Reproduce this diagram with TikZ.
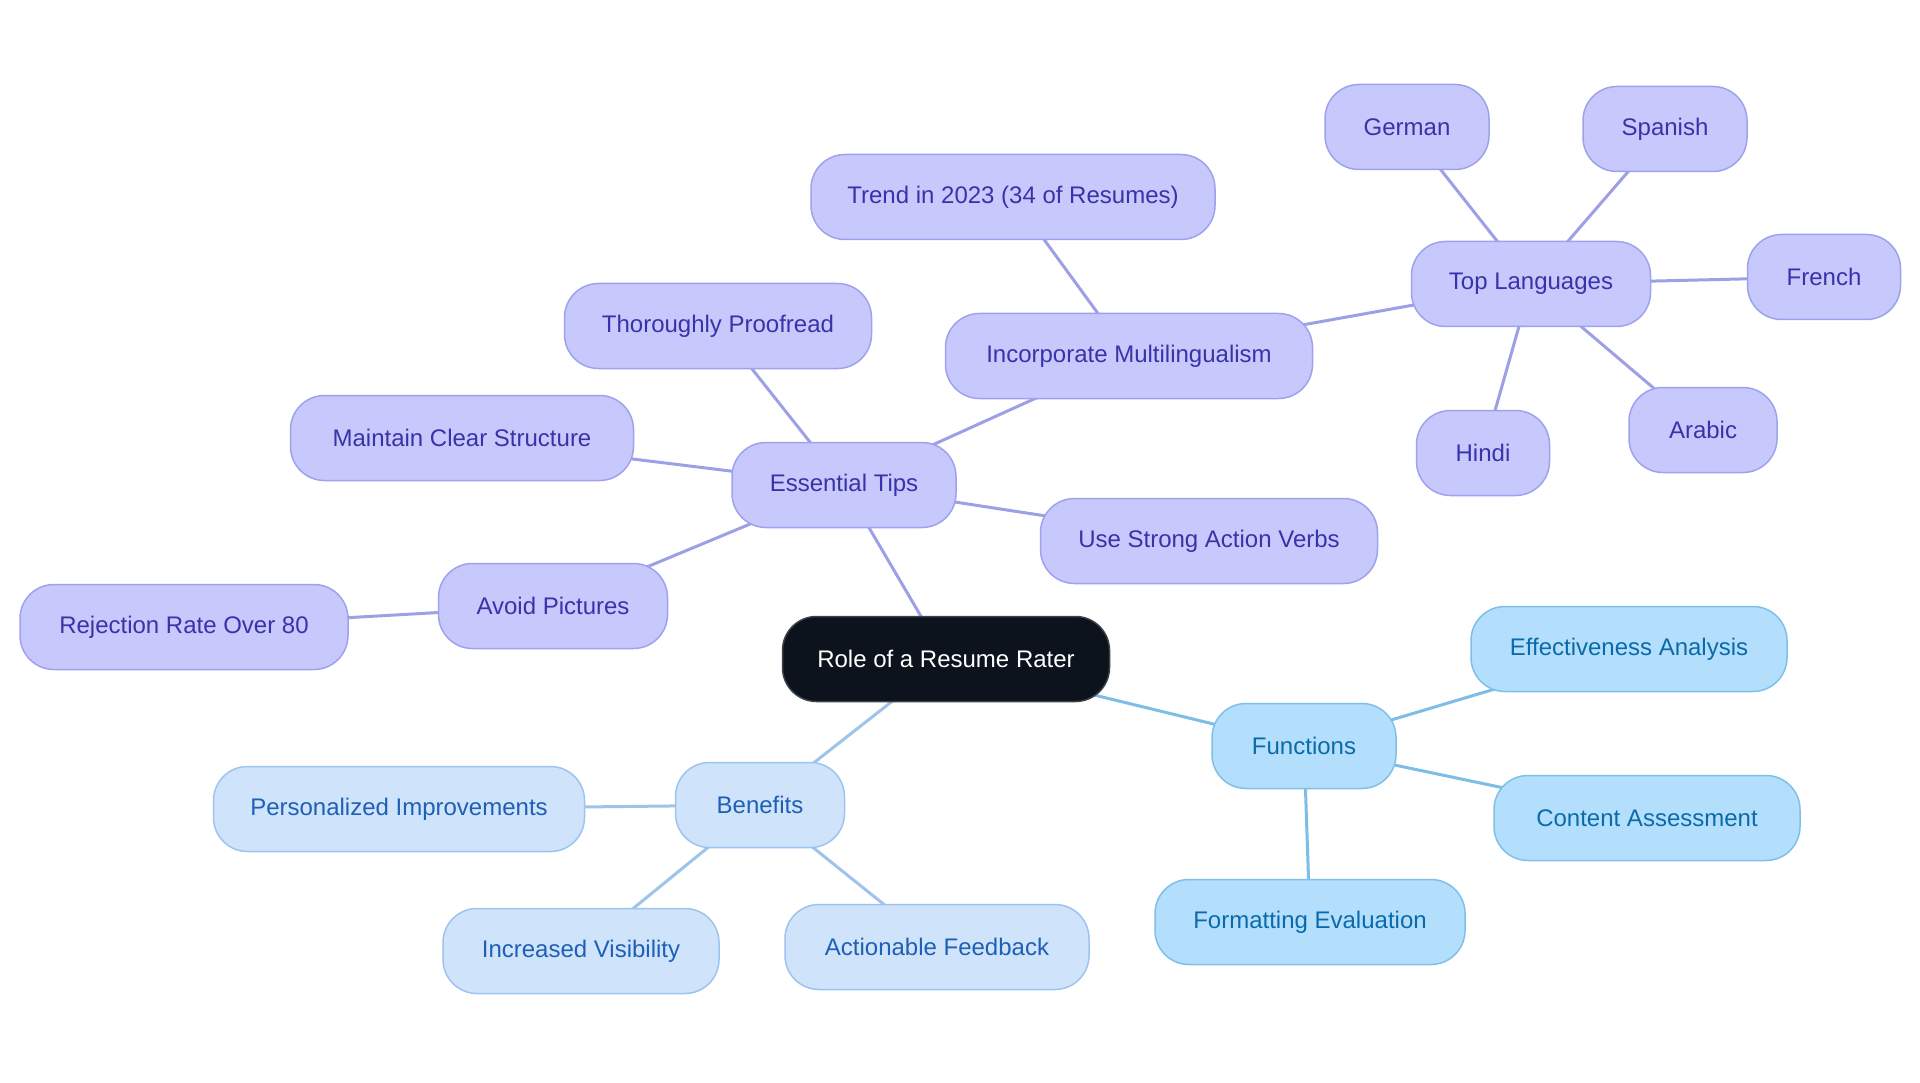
\documentclass[tikz,border=0pt]{standalone}
\usepackage{fontspec}
\setmainfont{Liberation Sans}
\usetikzlibrary{backgrounds}
\definecolor{pfill}{HTML}{C7C9FD}
\definecolor{pdraw}{HTML}{9EA2EC}
\definecolor{ptext}{HTML}{3A32A8}
\definecolor{pline}{HTML}{9EA0E6}
\definecolor{bfill}{HTML}{CFE4FB}
\definecolor{bdraw}{HTML}{9DC3EE}
\definecolor{btext}{HTML}{1F5FB5}
\definecolor{bline}{HTML}{9EC4EC}
\definecolor{ffill}{HTML}{B3DFFC}
\definecolor{fdraw}{HTML}{7FBFEA}
\definecolor{ftext}{HTML}{0B6BAA}
\definecolor{fline}{HTML}{7DBDE8}
\definecolor{rfill}{HTML}{0C131C}
\definecolor{rdraw}{HTML}{3C4148}
\begin{document}
\begin{tikzpicture}[x=1pt,y=-1pt,
  base/.style={draw, rounded corners=34pt, minimum height=85pt, line width=1.5pt,
    font=\fontsize{24}{28}\selectfont, align=center, inner xsep=8pt},
  pnode/.style={base, fill=pfill, draw=pdraw, text=ptext},
  bnode/.style={base, fill=bfill, draw=bdraw, text=btext},
  fnode/.style={base, fill=ffill, draw=fdraw, text=ftext},
  rnode/.style={base, fill=rfill, draw=rdraw, text=white},
  pedge/.style={draw=pline, line width=3pt},
  bedge/.style={draw=bline, line width=3pt},
  fedge/.style={draw=fline, line width=3pt}]
\useasboundingbox (0,0) rectangle (1920,1083);

\node[rnode, minimum width=327pt] (root) at (946,659) {Role of a Resume Rater};

\node[pnode, minimum width=224pt] (tips) at (844,485) {Essential Tips};
\node[pnode, minimum width=307pt] (proof) at (718,326) {Thoroughly Proofread};
\node[pnode, minimum width=343pt] (struct) at (462,438) {Maintain Clear Structure};
\node[pnode, minimum width=229pt] (avoid) at (553,606) {Avoid Pictures};
\node[pnode, minimum width=328pt] (reject) at (184,627) {Rejection Rate Over 80};
\node[pnode, minimum width=337pt] (verbs) at (1209,541) {Use Strong Action Verbs};
\node[pnode, minimum width=367pt] (multi) at (1129,356) {Incorporate Multilingualism};
\node[pnode, minimum width=404pt] (trend) at (1013,197) {Trend in 2023 (34 of Resumes)};
\node[pnode, minimum width=239pt] (top) at (1531,284) {Top Languages};
\node[pnode, minimum width=164pt] (german) at (1407,127) {German};
\node[pnode, minimum width=164pt] (spanish) at (1665,129) {Spanish};
\node[pnode, minimum width=153pt] (french) at (1824,277) {French};
\node[pnode, minimum width=148pt] (arabic) at (1703,430) {Arabic};
\node[pnode, minimum width=133pt] (hindi) at (1483,453) {Hindi};

\node[fnode, minimum width=184pt] (func) at (1304,746) {Functions};
\node[fnode, minimum width=316pt] (eff) at (1629,649) {Effectiveness Analysis};
\node[fnode, minimum width=306pt] (content) at (1647,818) {Content Assessment};
\node[fnode, minimum width=310pt] (format) at (1310,922) {Formatting Evaluation};

\node[bnode, minimum width=169pt] (ben) at (760,805) {Benefits};
\node[bnode, minimum width=371pt] (pers) at (399,809) {Personalized Improvements};
\node[bnode, minimum width=276pt] (vis) at (581,951) {Increased Visibility};
\node[bnode, minimum width=304pt] (act) at (937,947) {Actionable Feedback};

\begin{pgfonlayer}{background}
\fill[white] (0,0) rectangle (1920,1083);
\path[pedge] (root.center) -- (tips.center);
\path[pedge] (tips.center) -- (proof.center);
\path[pedge] (tips.center) -- (struct.center);
\path[pedge] (tips.center) -- (avoid.center);
\path[pedge] (avoid.center) -- (reject.center);
\path[pedge] (tips.center) -- (verbs.center);
\path[pedge] (tips.center) -- (multi.center);
\path[pedge] (multi.center) -- (trend.center);
\path[pedge] (multi.center) -- (top.center);
\path[pedge] (top.center) -- (german.center);
\path[pedge] (top.center) -- (spanish.center);
\path[pedge] (top.center) -- (french.center);
\path[pedge] (top.center) -- (arabic.center);
\path[pedge] (top.center) -- (hindi.center);
\path[fedge] (root.center) -- (func.center);
\path[fedge] (func.center) -- (eff.center);
\path[fedge] (func.center) -- (content.center);
\path[fedge] (func.center) -- (format.center);
\path[bedge] (root.center) -- (ben.center);
\path[bedge] (ben.center) -- (pers.center);
\path[bedge] (ben.center) -- (vis.center);
\path[bedge] (ben.center) -- (act.center);
\end{pgfonlayer}
\end{tikzpicture}
\end{document}
